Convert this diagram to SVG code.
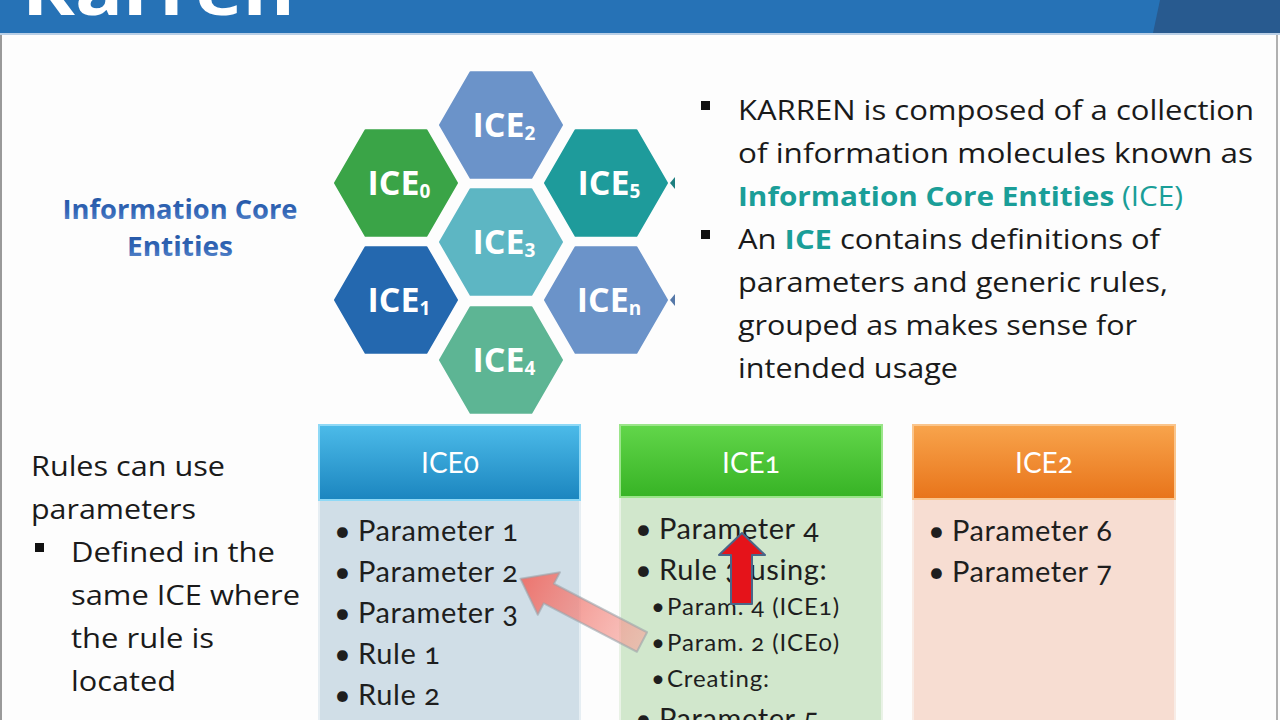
<svg xmlns="http://www.w3.org/2000/svg" width="1280" height="720" viewBox="0 0 1280 720">
<defs>
<style>
.hx{font-family:"Open Sans","Noto Sans",sans-serif;font-weight:bold;fill:#ffffff;font-size:34px}
.sub{font-size:19px}
.tx{font-family:"Open Sans","Noto Sans","Liberation Sans",sans-serif;font-size:27px;fill:#1a1a1a}
.tl{fill:#1a9e98}
.b{font-weight:bold}
.bx{font-family:Lato,"Open Sans",sans-serif;font-size:29px;letter-spacing:0.6px;fill:#1e1e1e;font-variant-numeric:oldstyle-nums;font-feature-settings:"onum"}
.bs{font-family:Lato,"Open Sans",sans-serif;font-size:24px;letter-spacing:0.9px;fill:#1e1e1e;font-variant-numeric:oldstyle-nums;font-feature-settings:"onum"}
.hd{font-family:Lato,"Open Sans",sans-serif;font-size:28px;fill:#ffffff;font-variant-numeric:oldstyle-nums;font-feature-settings:"onum"}
.ic{font-family:"Open Sans","Noto Sans",sans-serif;font-weight:bold;font-size:26px}
</style>
<polygon id="hex" points="-61,0 -30.5,-52.8 30.5,-52.8 61,0 30.5,52.8 -30.5,52.8" stroke-linejoin="round" stroke-width="2"/>
<linearGradient id="gBlue" x1="0" y1="0" x2="0" y2="1"><stop offset="0" stop-color="#4cbbe9"/><stop offset="1" stop-color="#1b85bf"/></linearGradient>
<linearGradient id="gGreen" x1="0" y1="0" x2="0" y2="1"><stop offset="0" stop-color="#62d64a"/><stop offset="1" stop-color="#37b325"/></linearGradient>
<linearGradient id="gOrange" x1="0" y1="0" x2="0" y2="1"><stop offset="0" stop-color="#f8a44c"/><stop offset="1" stop-color="#e8741a"/></linearGradient>
<linearGradient id="gIce" x1="0" y1="0" x2="0" y2="1"><stop offset="0" stop-color="#1d4f9e"/><stop offset="0.6" stop-color="#3568b8"/><stop offset="1" stop-color="#6f9ad6"/></linearGradient>
<linearGradient id="gPink" x1="0" y1="0" x2="1" y2="0"><stop offset="0" stop-color="#f6a29a" stop-opacity="0.6"/><stop offset="1" stop-color="#ee6f68" stop-opacity="0.95"/></linearGradient>
</defs>
<rect width="1280" height="720" fill="#fdfdfd"/>
<g id="title">
<rect x="0" y="0" width="1280" height="33" fill="#2672b6"/>
<polygon points="1160,0 1280,0 1280,33 1153,33" fill="#285a8f"/>
<rect x="0" y="33" width="1280" height="2" fill="#b9cfe6"/>
<text x="22" y="15" font-family="Open Sans,sans-serif" font-weight="bold" font-size="66" fill="#ffffff" textLength="273" lengthAdjust="spacingAndGlyphs">Karren</text>
</g>
<rect x="0" y="35" width="2" height="685" fill="#9a9a9a"/>
<rect x="1276" y="35" width="2" height="685" fill="#b0b0b0"/>
<g id="label-ice">
<text class="ic" x="180" y="219" text-anchor="middle" fill="url(#gIce)" textLength="235" lengthAdjust="spacingAndGlyphs">Information Core</text>
<text class="ic" x="180" y="256" text-anchor="middle" fill="url(#gIce)" textLength="106" lengthAdjust="spacingAndGlyphs">Entities</text>
</g>
<g id="hex-ice0"><use href="#hex" x="396" y="183" fill="#3aa447" stroke="#3aa447"/><text class="hx" x="399" y="195" text-anchor="middle">ICE<tspan class="sub" dy="3">0</tspan></text></g>
<g id="hex-ice2"><use href="#hex" x="501" y="125" fill="#6b93c9" stroke="#6b93c9"/><text class="hx" x="504" y="137" text-anchor="middle">ICE<tspan class="sub" dy="3">2</tspan></text></g>
<g id="hex-ice5"><use href="#hex" x="606" y="183" fill="#1e9b9b" stroke="#1e9b9b"/><polygon points="670,183 675,177 675,189" fill="#1e7f80"/><text class="hx" x="609" y="195" text-anchor="middle">ICE<tspan class="sub" dy="3">5</tspan></text></g>
<g id="hex-ice3"><use href="#hex" x="501" y="242" fill="#5db6c3" stroke="#5db6c3"/><text class="hx" x="504" y="254" text-anchor="middle">ICE<tspan class="sub" dy="3">3</tspan></text></g>
<g id="hex-ice1"><use href="#hex" x="396" y="300" fill="#2468af" stroke="#2468af"/><text class="hx" x="399" y="312" text-anchor="middle">ICE<tspan class="sub" dy="3">1</tspan></text></g>
<g id="hex-icen"><use href="#hex" x="606" y="300" fill="#6b93c9" stroke="#6b93c9"/><polygon points="670,300 675,294 675,306" fill="#5578a8"/><text class="hx" x="609" y="312" text-anchor="middle">ICE<tspan class="sub" dy="3">n</tspan></text></g>
<g id="hex-ice4"><use href="#hex" x="501" y="360" fill="#5db594" stroke="#5db594"/><text class="hx" x="504" y="372" text-anchor="middle">ICE<tspan class="sub" dy="3">4</tspan></text></g>
<g id="desc">
<rect x="701" y="101" width="9" height="9" fill="#111"/>
<rect x="701" y="230" width="9" height="9" fill="#111"/>
<text class="tx" x="738" y="120" textLength="516" lengthAdjust="spacingAndGlyphs">KARREN is composed of a collection</text>
<text class="tx" x="738" y="163" textLength="515" lengthAdjust="spacingAndGlyphs">of  information molecules known as</text>
<text class="tx tl" x="738" y="206" textLength="445" lengthAdjust="spacingAndGlyphs"><tspan class="b">Information Core Entities</tspan> (ICE)</text>
<text class="tx" x="738" y="249" textLength="422" lengthAdjust="spacingAndGlyphs">An <tspan class="tl b">ICE</tspan> contains definitions of</text>
<text class="tx" x="738" y="292" textLength="430" lengthAdjust="spacingAndGlyphs">parameters and generic rules,</text>
<text class="tx" x="738" y="335" textLength="399" lengthAdjust="spacingAndGlyphs">grouped as makes sense for</text>
<text class="tx" x="738" y="378" textLength="220" lengthAdjust="spacingAndGlyphs">intended usage</text>
</g>
<g id="rules-note">
<text class="tx" x="31" y="476" textLength="194" lengthAdjust="spacingAndGlyphs">Rules can use</text>
<text class="tx" x="31" y="519" textLength="165" lengthAdjust="spacingAndGlyphs">parameters</text>
<rect x="35" y="543" width="9" height="9" fill="#111"/>
<text class="tx" x="71" y="562" textLength="204" lengthAdjust="spacingAndGlyphs">Defined in the</text>
<text class="tx" x="71" y="605" textLength="229" lengthAdjust="spacingAndGlyphs">same ICE where</text>
<text class="tx" x="71" y="648" textLength="143" lengthAdjust="spacingAndGlyphs">the rule is</text>
<text class="tx" x="71" y="691" textLength="105" lengthAdjust="spacingAndGlyphs">located</text>
</g>
<g id="box-ice0">
<rect x="319" y="500" width="261" height="230" fill="#d0dee7" stroke="#e6eef3" stroke-width="2"/>
<rect x="319" y="425" width="261" height="75" fill="url(#gBlue)" stroke="#8fd9f6" stroke-width="2"/>
<text class="hd" x="450" y="473" text-anchor="middle">ICE0</text>
<g class="bx">
<text x="334" y="541">•</text><text x="358" y="541">Parameter 1</text>
<text x="334" y="582">•</text><text x="358" y="582">Parameter 2</text>
<text x="334" y="623">•</text><text x="358" y="623">Parameter 3</text>
<text x="334" y="664">•</text><text x="358" y="664">Rule 1</text>
<text x="334" y="705">•</text><text x="358" y="705">Rule 2</text>
</g>
</g>
<g id="box-ice1">
<rect x="620" y="497" width="262" height="233" fill="#d1e7cc" stroke="#e9f2e6" stroke-width="2"/>
<rect x="620" y="425" width="262" height="72" fill="url(#gGreen)" stroke="#9be58a" stroke-width="2"/>
<text class="hd" x="751" y="473" text-anchor="middle">ICE1</text>
<g class="bx">
<text x="635" y="539">•</text><text x="659" y="539">Parameter 4</text>
<text x="635" y="580">•</text><text x="659" y="580">Rule 3 using:</text>
<text x="635" y="729">•</text><text x="659" y="729">Parameter 5</text>
</g>
<g class="bs">
<text x="651" y="615">•</text><text x="667" y="615">Param. 4 (ICE1)</text>
<text x="651" y="651">•</text><text x="667" y="651">Param. 2 (ICE0)</text>
<text x="651" y="687">•</text><text x="667" y="687">Creating:</text>
</g>
</g>
<g id="box-ice2">
<rect x="913" y="499" width="262" height="231" fill="#f7ddd2" stroke="#f8ece6" stroke-width="2"/>
<rect x="913" y="425" width="262" height="74" fill="url(#gOrange)" stroke="#fac58c" stroke-width="2"/>
<text class="hd" x="1044" y="473" text-anchor="middle">ICE2</text>
<g class="bx">
<text x="928" y="541">•</text><text x="952" y="541">Parameter 6</text>
<text x="928" y="582">•</text><text x="952" y="582">Parameter 7</text>
</g>
</g>
<g id="connectors">
<polygon transform="translate(642,642) rotate(207.5)" points="0,-11 105,-11 105,-24 137,0 105,24 105,11 0,11" fill="url(#gPink)" stroke="#9aa3aa" stroke-opacity="0.6" stroke-width="2" stroke-linejoin="round"/>
<polygon points="742,533 765,555 752,555 752,604 731,604 731,555 719,555" fill="#e5131a" stroke="#4a6688" stroke-width="2" stroke-linejoin="round"/>
</g>
</svg>
